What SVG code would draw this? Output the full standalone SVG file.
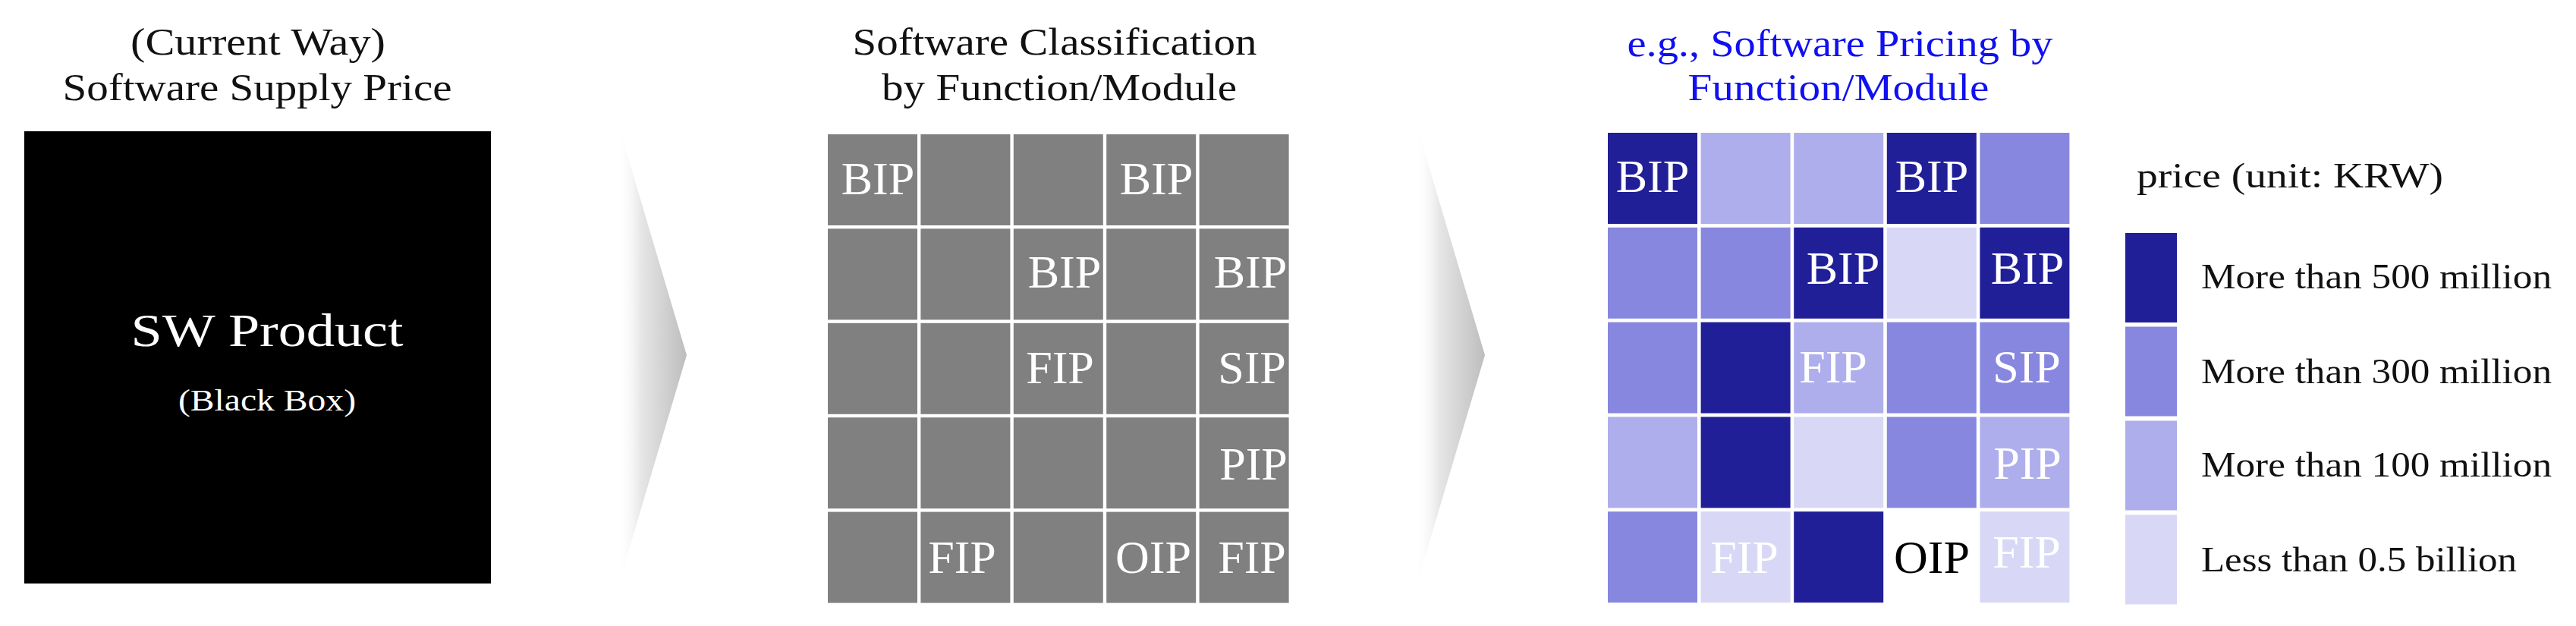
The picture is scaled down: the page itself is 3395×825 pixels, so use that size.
<svg xmlns="http://www.w3.org/2000/svg" width="3395" height="825" viewBox="0 0 3395 825">
  <style>
    .title { font-family: "Liberation Serif", "Times New Roman", serif; font-size: 50px; fill: #111; text-anchor: middle; }
    .blue { fill: #1010F0; }
    .lbl { font-family: "Liberation Serif", "Times New Roman", serif; font-size: 62px; fill: #ffffff; text-anchor: middle; }
    .dark { fill: #000; }
    .leg { font-family: "Liberation Serif", "Times New Roman", serif; font-size: 46px; fill: #111; }
    .g { fill: #808080; }
    .c5 { fill: #211F97; }
    .c3 { fill: #8787E0; }
    .c1 { fill: #AFAEEC; }
    .c0 { fill: #D8D8F6; }
    .cw { fill: #ffffff; }
  </style>
  <defs>
    <linearGradient id="chev" x1="0" y1="0" x2="1" y2="0">
      <stop offset="0" stop-color="#ffffff" stop-opacity="0"/>
      <stop offset="0.35" stop-color="#e6e6e6"/>
      <stop offset="1" stop-color="#bdbdbd"/>
    </linearGradient>
  </defs>
  <rect width="3395" height="825" fill="#ffffff"/>

  <g id="connectors">
    <polygon points="813,158 905,468 813,778" fill="url(#chev)"/>
    <polygon points="1865,158 1957,468 1865,778" fill="url(#chev)"/>
  </g>

  <g id="current-way">
    <text class="title" x="340" y="72" textLength="336" lengthAdjust="spacingAndGlyphs">(Current  Way)</text>
    <text class="title" x="339" y="132" textLength="513" lengthAdjust="spacingAndGlyphs">Software Supply  Price</text>
    <rect x="32" y="173" width="615" height="596" fill="#000"/>
    <text x="352" y="456" font-family="Liberation Serif, serif" font-size="62" fill="#fff" text-anchor="middle" textLength="359" lengthAdjust="spacingAndGlyphs">SW Product</text>
    <text x="352" y="541" font-family="Liberation Serif, serif" font-size="41" fill="#fff" text-anchor="middle" textLength="234" lengthAdjust="spacingAndGlyphs">(Black Box)</text>
  </g>

  <g id="classification">
    <text class="title" x="1390" y="72" textLength="533" lengthAdjust="spacingAndGlyphs">Software Classification</text>
    <text class="title" x="1396" y="132" textLength="468" lengthAdjust="spacingAndGlyphs">by Function/Module</text>
    <g id="class-grid">
      <rect class="g" x="1091" y="177" width="118" height="120"/>
      <rect class="g" x="1213.4" y="177" width="118" height="120"/>
      <rect class="g" x="1335.8" y="177" width="118" height="120"/>
      <rect class="g" x="1458.2" y="177" width="118" height="120"/>
      <rect class="g" x="1580.6" y="177" width="118" height="120"/>
      <rect class="g" x="1091" y="301.4" width="118" height="120"/>
      <rect class="g" x="1213.4" y="301.4" width="118" height="120"/>
      <rect class="g" x="1335.8" y="301.4" width="118" height="120"/>
      <rect class="g" x="1458.2" y="301.4" width="118" height="120"/>
      <rect class="g" x="1580.6" y="301.4" width="118" height="120"/>
      <rect class="g" x="1091" y="425.8" width="118" height="120"/>
      <rect class="g" x="1213.4" y="425.8" width="118" height="120"/>
      <rect class="g" x="1335.8" y="425.8" width="118" height="120"/>
      <rect class="g" x="1458.2" y="425.8" width="118" height="120"/>
      <rect class="g" x="1580.6" y="425.8" width="118" height="120"/>
      <rect class="g" x="1091" y="550.2" width="118" height="120"/>
      <rect class="g" x="1213.4" y="550.2" width="118" height="120"/>
      <rect class="g" x="1335.8" y="550.2" width="118" height="120"/>
      <rect class="g" x="1458.2" y="550.2" width="118" height="120"/>
      <rect class="g" x="1580.6" y="550.2" width="118" height="120"/>
      <rect class="g" x="1091" y="674.6" width="118" height="120"/>
      <rect class="g" x="1213.4" y="674.6" width="118" height="120"/>
      <rect class="g" x="1335.8" y="674.6" width="118" height="120"/>
      <rect class="g" x="1458.2" y="674.6" width="118" height="120"/>
      <rect class="g" x="1580.6" y="674.6" width="118" height="120"/>
    </g>
    <text class="lbl" x="1157" y="256">BIP</text>
    <text class="lbl" x="1524" y="256">BIP</text>
    <text class="lbl" x="1403" y="379">BIP</text>
    <text class="lbl" x="1648" y="379">BIP</text>
    <text class="lbl" x="1397" y="505">FIP</text>
    <text class="lbl" x="1650" y="505">SIP</text>
    <text class="lbl" x="1652" y="632">PIP</text>
    <text class="lbl" x="1268" y="755">FIP</text>
    <text class="lbl" x="1520" y="755">OIP</text>
    <text class="lbl" x="1650" y="755">FIP</text>
  </g>

  <g id="pricing">
    <text class="title blue" x="2425" y="74" textLength="561" lengthAdjust="spacingAndGlyphs">e.g., Software Pricing by</text>
    <text class="title blue" x="2423" y="132" textLength="397" lengthAdjust="spacingAndGlyphs">Function/Module</text>
    <g id="price-grid">
      <rect class="c5" x="2119" y="175" width="118" height="120"/>
      <rect class="c1" x="2241.6" y="175" width="118" height="120"/>
      <rect class="c1" x="2364.2" y="175" width="118" height="120"/>
      <rect class="c5" x="2486.8" y="175" width="118" height="120"/>
      <rect class="c3" x="2609.4" y="175" width="118" height="120"/>
      <rect class="c3" x="2119" y="299.8" width="118" height="120"/>
      <rect class="c3" x="2241.6" y="299.8" width="118" height="120"/>
      <rect class="c5" x="2364.2" y="299.8" width="118" height="120"/>
      <rect class="c0" x="2486.8" y="299.8" width="118" height="120"/>
      <rect class="c5" x="2609.4" y="299.8" width="118" height="120"/>
      <rect class="c3" x="2119" y="424.6" width="118" height="120"/>
      <rect class="c5" x="2241.6" y="424.6" width="118" height="120"/>
      <rect class="c1" x="2364.2" y="424.6" width="118" height="120"/>
      <rect class="c3" x="2486.8" y="424.6" width="118" height="120"/>
      <rect class="c3" x="2609.4" y="424.6" width="118" height="120"/>
      <rect class="c1" x="2119" y="549.4" width="118" height="120"/>
      <rect class="c5" x="2241.6" y="549.4" width="118" height="120"/>
      <rect class="c0" x="2364.2" y="549.4" width="118" height="120"/>
      <rect class="c3" x="2486.8" y="549.4" width="118" height="120"/>
      <rect class="c1" x="2609.4" y="549.4" width="118" height="120"/>
      <rect class="c3" x="2119" y="674.2" width="118" height="120"/>
      <rect class="c0" x="2241.6" y="674.2" width="118" height="120"/>
      <rect class="c5" x="2364.2" y="674.2" width="118" height="120"/>
      <rect class="cw" x="2486.8" y="674.2" width="118" height="120"/>
      <rect class="c0" x="2609.4" y="674.2" width="118" height="120"/>
    </g>
    <text class="lbl" x="2178" y="253">BIP</text>
    <text class="lbl" x="2546" y="253">BIP</text>
    <text class="lbl" x="2429" y="374">BIP</text>
    <text class="lbl" x="2672" y="374">BIP</text>
    <text class="lbl" x="2416" y="504">FIP</text>
    <text class="lbl" x="2671" y="504">SIP</text>
    <text class="lbl" x="2672" y="631">PIP</text>
    <text class="lbl" x="2299" y="755">FIP</text>
    <text class="lbl dark" x="2546" y="755">OIP</text>
    <text class="lbl" x="2671" y="748">FIP</text>
  </g>

  <g id="legend">
    <text class="leg" x="2816" y="247" textLength="404" lengthAdjust="spacingAndGlyphs">price (unit:  KRW)</text>
    <rect class="c5" x="2801" y="307" width="68" height="118"/>
    <rect class="c3" x="2801" y="430.5" width="68" height="118"/>
    <rect class="c1" x="2801" y="554.5" width="68" height="118"/>
    <rect class="c0" x="2801" y="678.5" width="68" height="118"/>
    <text class="leg" x="2901" y="380" textLength="462" lengthAdjust="spacingAndGlyphs">More than 500 million</text>
    <text class="leg" x="2901" y="505" textLength="462" lengthAdjust="spacingAndGlyphs">More than 300 million</text>
    <text class="leg" x="2901" y="628" textLength="462" lengthAdjust="spacingAndGlyphs">More than 100 million</text>
    <text class="leg" x="2901" y="753" textLength="416" lengthAdjust="spacingAndGlyphs">Less than 0.5 billion</text>
  </g>
</svg>
